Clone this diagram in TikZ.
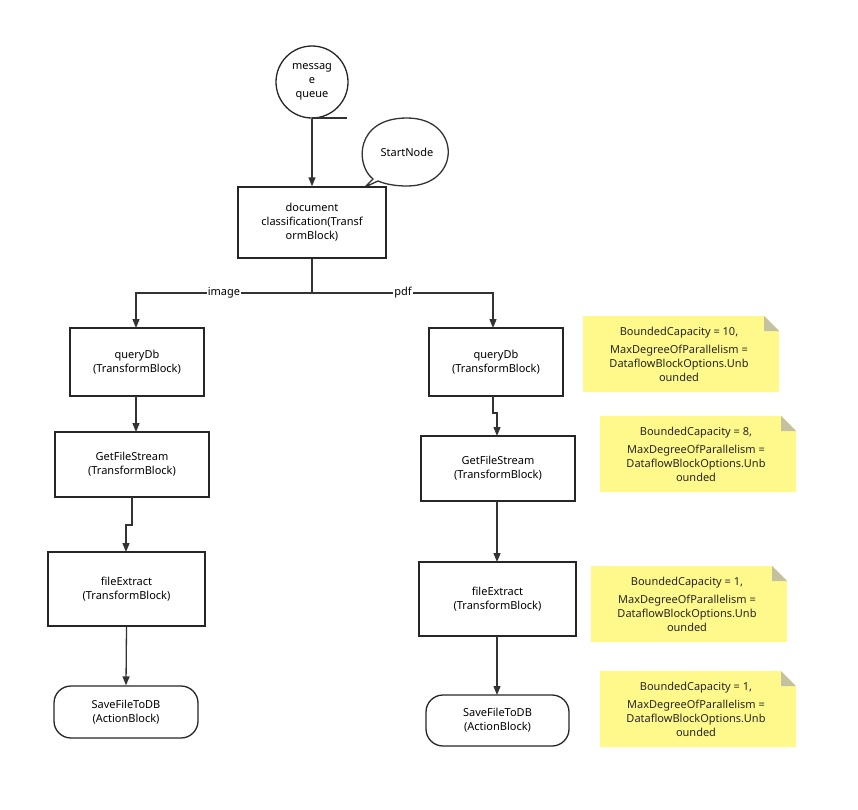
\documentclass[tikz,border=0pt]{standalone}
\usepackage{fontspec}
\setmainfont{Noto Sans}
\usetikzlibrary{arrows.meta,shapes.geometric}
\begin{document}
\begin{tikzpicture}[x=1pt,y=-1pt,font=\fontsize{11}{14}\selectfont,
  line width=1.3pt,draw=black!80,
  arr/.style={draw=black!80,line width=1.3pt,-{Triangle[length=9pt,width=7pt]}},
  box/.style={draw=black!85,line width=1.3pt,fill=white,align=center,inner sep=0pt},
  note/.style={fill=yellow!45!white,draw=none}]
\useasboundingbox (0,0) rectangle (858,809);
% notes
\foreach \x/\y/\t in {583/316/10,600/416/8,591/566/1,600/671/1}{
  \fill[yellow!45] (\x,\y) -- ++(181,0) -- ++(15,15) -- ++(0,61) -- ++(-196,0) -- cycle;
  \fill[yellow!40!black!45] (\x+181,\y) -- ++(0,15) -- ++(15,0) -- cycle;
  \node[align=center,text=black!85] at (\x+96,\y+38) {BoundedCapacity = \t,\\[4pt]MaxDegreeOfParallelism =\\DataflowBlockOptions.Unb\\ounded};
}
% message queue
\node[box,circle,minimum size=72pt] (mq) at (312,82) {messag\\e\\queue};
\draw (312,118) -- (347,118);
% start node
\draw[fill=white] (373,179) .. controls (355,165) and (355,118) .. (407,118)
  .. controls (462,118) and (462,186) .. (407,186) .. controls (395,186) and (385,184) .. (378,181) -- (365,187) -- cycle;
\node (sn) at (407,152) {StartNode};
% doc
\node[box,minimum width=148pt,minimum height=71pt] (doc) at (312,222.5) {document\\classification(Transf\\ormBlock)};
\draw[arr] (mq.south) -- (doc.north);
% left
\node[box,minimum width=134pt,minimum height=68pt] (q1) at (137,362) {queryDb\\(TransformBlock)};
\node[box,minimum width=154pt,minimum height=65pt] (g1) at (132,464.5) {GetFileStream\\(TransformBlock)};
\node[box,minimum width=157pt,minimum height=74pt] (f1) at (126.5,589) {fileExtract\\(TransformBlock)};
\node[box,rounded corners=17pt,minimum width=144pt,minimum height=52pt] (s1) at (126,712) {SaveFileToDB\\(ActionBlock)};
% right
\node[box,minimum width=134pt,minimum height=68pt] (q2) at (496,362) {queryDb\\(TransformBlock)};
\node[box,minimum width=154pt,minimum height=65pt] (g2) at (498,468.5) {GetFileStream\\(TransformBlock)};
\node[box,minimum width=157pt,minimum height=74pt] (f2) at (497.5,599) {fileExtract\\(TransformBlock)};
\node[box,rounded corners=17pt,minimum width=143pt,minimum height=51pt] (s2) at (497.5,720.5) {SaveFileToDB\\(ActionBlock)};
% branches
\coordinate (bj) at (312,293);
\draw[arr] (doc.south) -- (bj) -| (136,328);
\draw[arr] (bj) -| (493,328);
\node[fill=white,inner sep=1pt] at (224,293) {image};
\node[fill=white,inner sep=1pt] at (403,293) {pdf};
\draw[arr] (136,396) -- (136,432);
\draw[arr] (132,497) -- (132,525) -- (126,525) -- (126,552);
\draw[arr] (f1.south) -- (s1.north);
\draw[arr] (493,396) -- (493,413) -- (497,413) -- (497,436);
\draw[arr] (497,501) -- (497,562);
\draw[arr] (497,636) -- (497,695);
\end{tikzpicture}
\end{document}
